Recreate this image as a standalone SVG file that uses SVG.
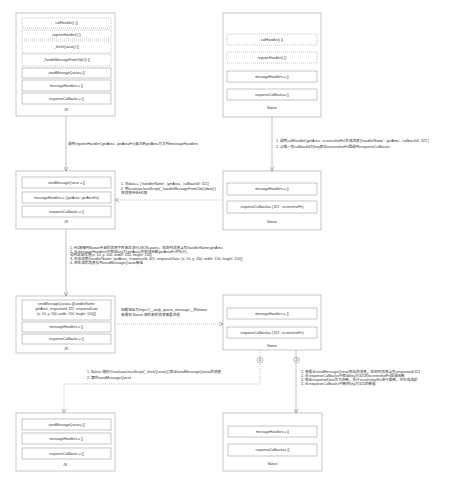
<svg xmlns="http://www.w3.org/2000/svg" width="474" height="484" viewBox="0 0 474 484">
<style>
.outer{fill:#fff;stroke:#a0a0a0;stroke-width:0.6}
.inner{fill:#fff;stroke:#8a8a8a;stroke-width:0.5}
.dot{fill:#fff;stroke:#8a8a8a;stroke-width:0.5;stroke-dasharray:1 1}
.lbl{font-family:"Liberation Sans","Noto Sans CJK SC",sans-serif;font-size:3.4px;fill:#333;text-anchor:middle}
.ann{font-family:"Liberation Sans","Noto Sans CJK SC",sans-serif;font-size:3.6px;fill:#333}
.ln{fill:none;stroke:#999;stroke-width:0.6}
.dl{fill:none;stroke:#999;stroke-width:0.6;stroke-dasharray:1 1}
.num{fill:#eee;stroke:#999;stroke-width:0.5}
</style>
<defs>
<marker id="arr" viewBox="0 0 6 6" refX="5.5" refY="3" markerWidth="5" markerHeight="5" orient="auto" markerUnits="userSpaceOnUse">
<path d="M0.5,0.5 L5.5,3 L0.5,5.5" fill="none" stroke="#888" stroke-width="0.8"/>
</marker>
</defs>

<g id="hs1">
<rect class="outer" x="16" y="13" width="99" height="103"/>
<rect class="dot" x="22" y="18" width="89" height="10"/>
<text class="lbl" x="66.5" y="24.2">callHandler() {}</text>
<rect class="dot" x="22" y="30" width="89" height="9"/>
<text class="lbl" x="66.5" y="35.7">registerHandler() {}</text>
<rect class="dot" x="22" y="41" width="89" height="12"/>
<text class="lbl" x="66.5" y="48.2">_fetchQueue() {}</text>
<rect class="dot" x="22" y="54" width="89" height="12"/>
<text class="lbl" x="66.5" y="61.2">_handleMessageFromObjC() {}</text>
<rect class="inner" x="22" y="68" width="89" height="10"/>
<text class="lbl" x="66.5" y="74.2">sendMessageQueue= []</text>
<rect class="inner" x="22" y="80" width="89" height="11"/>
<text class="lbl" x="66.5" y="86.7">messageHandlers = {}</text>
<rect class="inner" x="22" y="93" width="89" height="11"/>
<text class="lbl" x="66.5" y="99.7">responseCallbacks = {}</text>
<text class="lbl" x="66" y="111.3">JS</text>
</g>

<g id="native1">
<rect class="outer" x="223" y="13" width="98" height="104"/>
<rect class="dot" x="227" y="34" width="90" height="11"/>
<text class="lbl" x="272" y="40.7">callHandler() {}</text>
<rect class="dot" x="227" y="52" width="90" height="11"/>
<text class="lbl" x="272" y="58.7">registerHandler() {}</text>
<rect class="inner" x="227" y="71" width="90" height="11"/>
<text class="lbl" x="272" y="77.7">messageHandlers = {}</text>
<rect class="inner" x="227" y="89" width="90" height="11"/>
<text class="lbl" x="272" y="95.7">responseCallbacks= {}</text>
<text class="lbl" x="272" y="109.3">Native</text>
</g>

<g id="hs2">
<rect class="outer" x="16" y="171" width="99" height="58"/>
<rect class="inner" x="22" y="177" width="89" height="11"/>
<text class="lbl" x="66.5" y="183.7">sendMessageQueue = []</text>
<rect class="inner" x="22" y="192" width="89" height="11"/>
<text class="lbl" x="66.5" y="198.7">messageHandlers = {'getArea': getAreaFn}</text>
<rect class="inner" x="22" y="206" width="89" height="11"/>
<text class="lbl" x="66.5" y="212.7">responseCallbacks = {}</text>
<text class="lbl" x="66" y="223.3">JS</text>
</g>

<g id="native2">
<rect class="outer" x="223" y="171" width="98" height="59"/>
<rect class="inner" x="227" y="183" width="90" height="12"/>
<text class="lbl" x="272" y="190.2">messageHandlers = {}</text>
<rect class="inner" x="227" y="201" width="90" height="12"/>
<text class="lbl" x="272" y="208.2">responseCallbacks= {'321': screenshotFn}</text>
<text class="lbl" x="272" y="223.3">Native</text>
</g>

<g id="hs3">
<rect class="outer" x="16" y="296" width="99" height="57"/>
<rect class="inner" x="22" y="300" width="89" height="20"/>
<text class="lbl" x="66.5" y="304.8">sendMessageQueue= [{handlerName:</text>
<text class="lbl" x="66.5" y="309.8">'getArea', responseId: 321, responseData:</text>
<text class="lbl" x="66.5" y="314.8">{x: 10, y: 200, width: 150, height: 150}}]</text>
<rect class="inner" x="22" y="322" width="89" height="10"/>
<text class="lbl" x="66.5" y="328.2">messageHandlers = {}</text>
<rect class="inner" x="22" y="334" width="89" height="10"/>
<text class="lbl" x="66.5" y="340.2">responseCallbacks = {}</text>
<text class="lbl" x="66" y="350.3">JS</text>
</g>

<g id="native3">
<rect class="outer" x="223" y="295" width="98" height="55"/>
<rect class="inner" x="227" y="308" width="90" height="11"/>
<text class="lbl" x="272" y="314.7">messageHandlers = {}</text>
<rect class="inner" x="227" y="327" width="90" height="11"/>
<text class="lbl" x="272" y="333.7">responseCallbacks= {'321': screenshotFn}</text>
<text class="lbl" x="272" y="347.3">Native</text>
</g>

<g id="hs4">
<rect class="outer" x="16" y="413" width="99" height="58"/>
<rect class="inner" x="22" y="419" width="89" height="11"/>
<text class="lbl" x="66.5" y="425.7">sendMessageQueue= []</text>
<rect class="inner" x="22" y="433" width="89" height="11"/>
<text class="lbl" x="66.5" y="439.7">messageHandlers = {}</text>
<rect class="inner" x="22" y="448" width="89" height="11"/>
<text class="lbl" x="66.5" y="454.7">responseCallbacks = {}</text>
<text class="lbl" x="65" y="466.3">JS</text>
</g>

<g id="native4">
<rect class="outer" x="223" y="413" width="99" height="58"/>
<rect class="inner" x="228" y="426" width="89" height="11"/>
<text class="lbl" x="272.5" y="432.7">messageHandlers = {}</text>
<rect class="inner" x="228" y="444" width="89" height="12"/>
<text class="lbl" x="272.5" y="451.2">responseCallbacks= {}</text>
<text class="lbl" x="272.5" y="465.3">Native</text>
</g>

<g id="connectors">
<path class="ln" d="M66,116 V171" marker-end="url(#arr)"/>
<path class="ln" d="M272,117 V171" marker-end="url(#arr)"/>
<path class="dl" d="M223,200 H115" marker-end="url(#arr)"/>
<path class="ln" d="M66,229 V296" marker-end="url(#arr)"/>
<path class="dl" d="M115,324 H223" marker-end="url(#arr)"/>
<path class="dl" d="M260,350 V384 H64 V413" marker-end="url(#arr)"/>
<path class="ln" d="M296,350 V413" marker-end="url(#arr)"/>
<circle class="num" cx="260" cy="360" r="3"/>
<text class="lbl" x="260" y="361.2">1</text>
<circle class="num" cx="296.5" cy="360" r="3"/>
<text class="lbl" x="296.5" y="361.2">2</text>
</g>

<g id="labels">
<text class="ann" x="68" y="145.3">调用registerHandler('getArea', getAreaFn)来注册getArea方法到messageHandlers</text>
<text class="ann" x="276" y="142.3">1. 调用callHandler('getArea', screenshotFn)生成消息{'handlerName': 'getArea', 'callbackId': 321'}</text>
<text class="ann" x="276" y="148.3">2. 以唯一的callbackId为key保存screenshotFn回调到responseCallbacks</text>
<text class="ann" x="121" y="185.2">1. 将data = '{'handlerName': 'getArea', 'callbackId': 321}'</text>
<text class="ann" x="121" y="189.7">2. 用evaluateJavaScript('_handleMessageFromObjC(data)')</text>
<text class="ann" x="121" y="194.2">把消息传给H5端</text>
<text class="ann" x="70" y="248.8">1. H5端接到Native传来的消息字符串后进行JSON.parse，检测到消息含有handlerName:getArea</text>
<text class="ann" x="70" y="252.5">2. 从messageHandlers中取出key为'getArea'的处理函数getAreaFn并执行，</text>
<text class="ann" x="70" y="256.2">得到区域信息{x: 10, y: 200, width: 150, height: 150}</text>
<text class="ann" x="70" y="259.9">3. 生成消息{handlerName: 'getArea', responseId: 321, responseData: {x: 10, y: 200, width: 150, height: 150}}</text>
<text class="ann" x="70" y="263.6">4. 把生成的消息存到sendMessageQueue数组</text>
<text class="ann" x="121" y="311.2">加载地址为https://__wvjb_queue_message__的iframe</text>
<text class="ann" x="121" y="316.2">来通知 Native 端有新的消息需要处理</text>
<text class="ann" x="87" y="373.2">1. Native 端执行evaluateJavaScript('_fetchQueue()')取出sendMessageQueue的消息</text>
<text class="ann" x="87" y="379.2">2. 清空sendMessageQueue</text>
<text class="ann" x="301" y="373.2">1. 根据从sendMessageQueue取出的消息，检测到消息含有responseId:321</text>
<text class="ann" x="301" y="377.2">2. 从responseCallbacks中取出key为321的screenshotFn回调函数</text>
<text class="ann" x="301" y="381.2">3. 取出responseData作为参数，执行screenshotFn进行截图，并生成海报</text>
<text class="ann" x="301" y="385.2">4. 从responseCallbacks中删除key为321的数据</text>
</g>
</svg>
